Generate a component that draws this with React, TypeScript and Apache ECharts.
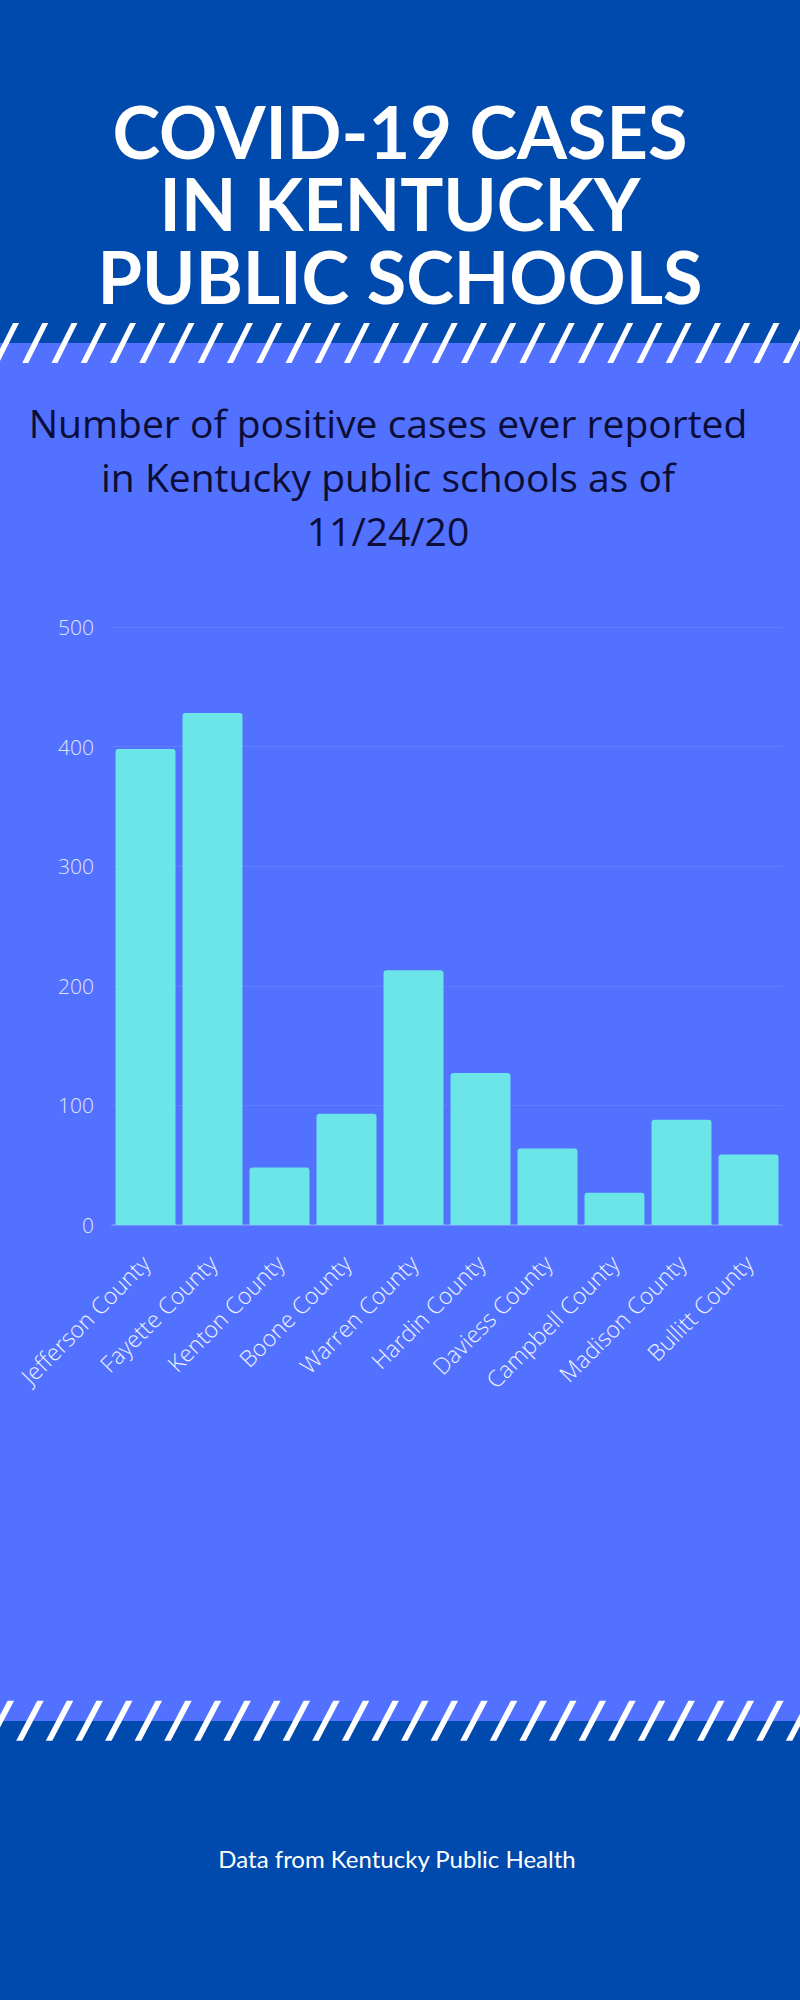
import React, { useEffect, useRef } from "react";
import * as echarts from "echarts";

const titleLines = ["COVID-19 CASES", "IN KENTUCKY", "PUBLIC SCHOOLS"];
const subtitleLines = [
  "Number of positive cases ever reported",
  "in Kentucky public schools as of",
  "11/24/20",
];
const footerText = "Data from Kentucky Public Health";
const counties = [
  "Jefferson County",
  "Fayette County",
  "Kenton County",
  "Boone County",
  "Warren County",
  "Hardin County",
  "Daviess County",
  "Campbell County",
  "Madison County",
  "Bullitt County",
];
const cases = [398, 428, 48, 93, 213, 127, 64, 27, 88, 59];

const DARK = "#004AAD";
const LIGHT = "#5271FF";
const BAR = "#6CE5E8";

function stripes(x0: number, period: number, top: number, bottom: number, shift: number, w: number) {
  const out: any[] = [];
  for (let k = -1; k < 30; k++) {
    const tx = x0 + k * period;
    out.push({
      type: "polygon",
      z: 5,
      shape: {
        points: [
          [tx, top],
          [tx + w, top],
          [tx + w - shift, bottom],
          [tx - shift, bottom],
        ],
      },
      style: { fill: "#ffffff" },
      silent: true,
    });
  }
  return out;
}

export default function App() {
  const ref = useRef<HTMLDivElement>(null);
  useEffect(() => {
    if (!ref.current) return;
    const chart = echarts.init(ref.current, null, { renderer: "svg" });
    const graphics: any[] = [
      { type: "rect", z: -10, shape: { x: 0, y: 0, width: 800, height: 343 }, style: { fill: DARK }, silent: true },
      { type: "rect", z: -10, shape: { x: 0, y: 343, width: 800, height: 1378 }, style: { fill: LIGHT }, silent: true },
      { type: "rect", z: -10, shape: { x: 0, y: 1721, width: 800, height: 279 }, style: { fill: DARK }, silent: true },
      ...stripes(13, 29.25, 323, 363, 20, 6),
      ...stripes(7.6, 29.6, 1700.7, 1740.7, 21, 6.5),
      {
        type: "text",
        z: 10,
        x: 400,
        y: 203,
        style: {
          text: titleLines.join("\n"),
          fill: "#ffffff",
          font: 'bold 72px Lato, "Noto Sans", sans-serif',
          lineHeight: 72.5,
          align: "center",
          verticalAlign: "middle",
        },
      },
      {
        type: "text",
        z: 10,
        x: 388,
        y: 476,
        style: {
          text: subtitleLines.join("\n"),
          fill: "#0b0d36",
          font: '39px "Open Sans", sans-serif',
          lineHeight: 54,
          align: "center",
          verticalAlign: "middle",
        },
      },
      {
        type: "text",
        z: 10,
        x: 397,
        y: 1858,
        style: {
          text: footerText,
          fill: "#ffffff",
          font: '24px Lato, "Noto Sans", sans-serif',
          align: "center",
          verticalAlign: "middle",
        },
      },
    ];
    chart.setOption({
      animation: false,
      backgroundColor: LIGHT,
      graphic: { elements: graphics },
      grid: { left: 112, right: 18, top: 627, bottom: 775, containLabel: false },
      xAxis: {
        type: "category",
        data: counties,
        axisTick: { show: false },
        axisLine: { show: true, lineStyle: { color: "#8198ff", width: 1.5 } },
        axisLabel: {
          rotate: 45,
          interval: 0,
          margin: 34,
          color: "#eef2ff",
          fontFamily: '"Open Sans", sans-serif',
          fontWeight: 300,
          fontSize: 23,
        },
      },
      yAxis: {
        type: "value",
        min: 0,
        max: 500,
        interval: 100,
        axisLine: { show: false },
        axisTick: { show: false },
        splitLine: { lineStyle: { color: "rgba(255,255,255,0.09)", width: 1 } },
        axisLabel: {
          margin: 18,
          color: "#e0e6fb",
          fontFamily: '"Open Sans", sans-serif',
          fontWeight: 300,
          fontSize: 21,
        },
      },
      series: [
        {
          type: "bar",
          data: cases,
          barCategoryGap: "10.5%",
          itemStyle: { color: BAR, borderRadius: [3, 3, 0, 0] },
        },
      ],
    });
    return () => chart.dispose();
  }, []);
  return (
    <div
      ref={ref}
      style={{ position: "absolute", left: 0, top: 0, width: 800, height: 2000 }}
    />
  );
}
